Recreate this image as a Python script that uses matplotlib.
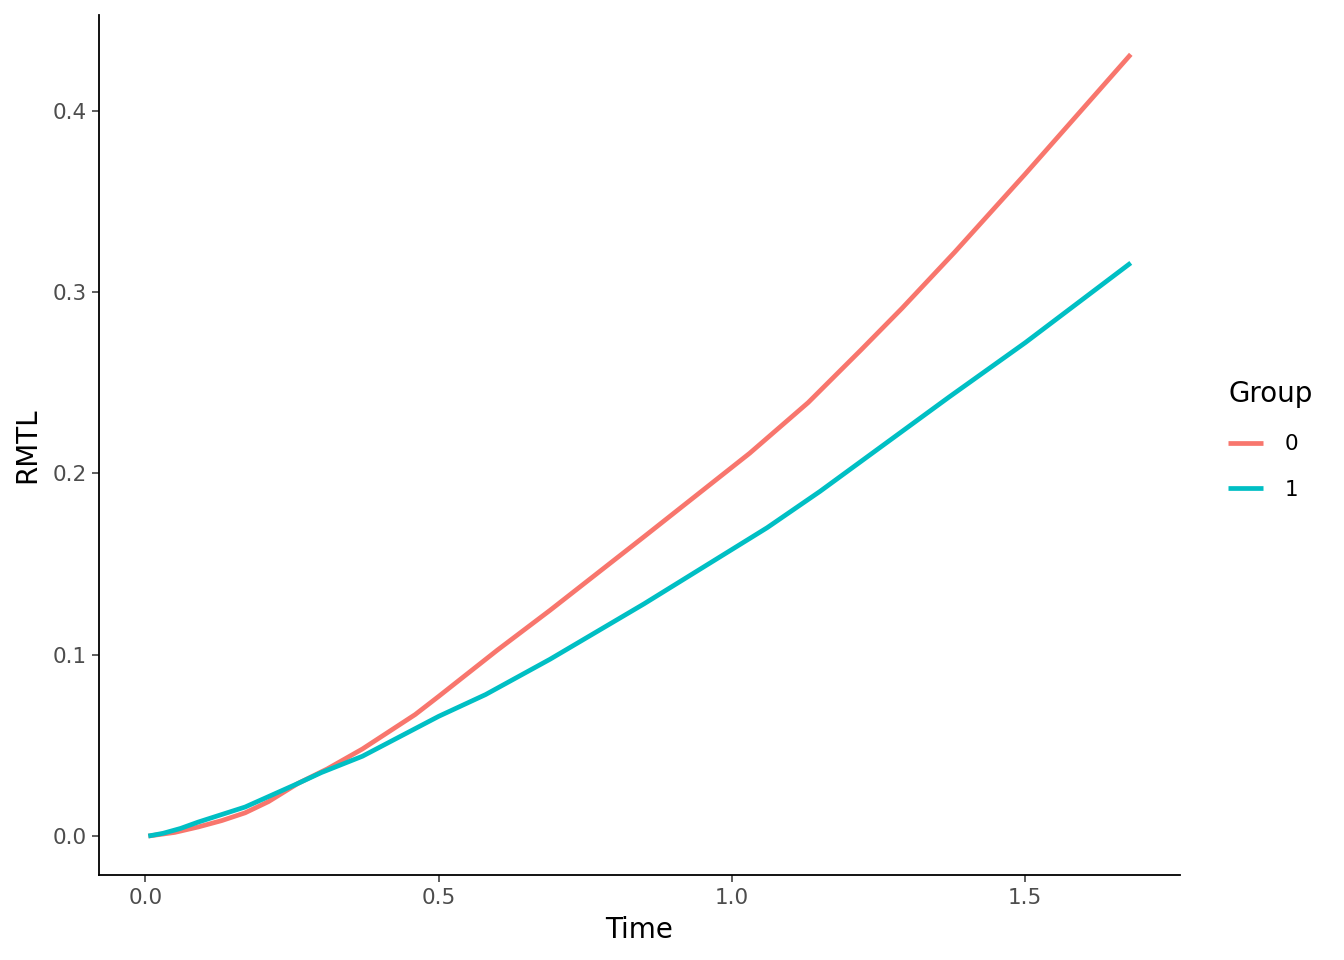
import matplotlib
matplotlib.use('Agg')
import matplotlib.pyplot as plt

# group 0
t0 = [0.005, 0.05, 0.09, 0.13, 0.17, 0.21, 0.26, 0.31, 0.37, 0.46, 0.5, 0.6, 0.69, 0.85, 1.03, 1.13, 1.22, 1.29, 1.38, 1.5, 1.68]
r0 = [0.0, 0.002, 0.005, 0.0085, 0.0128, 0.019, 0.029, 0.037, 0.048, 0.067, 0.077, 0.1025, 0.1245, 0.165, 0.211, 0.239, 0.268, 0.291, 0.322, 0.365, 0.431]
# group 1
t1 = [0.005, 0.03, 0.06, 0.09, 0.17, 0.26, 0.3, 0.37, 0.5, 0.58, 0.69, 0.85, 1.06, 1.15, 1.37, 1.5, 1.68]
r1 = [0.0, 0.0015, 0.0042, 0.0077, 0.016, 0.029, 0.035, 0.0440, 0.066, 0.078, 0.0975, 0.128, 0.170, 0.19, 0.242, 0.272, 0.316]

groups = ['0', '1']
colors = ['#F8766D', '#00BFC4']
xticks = [0.0, 0.5, 1.0, 1.5]
yticks = [0.0, 0.1, 0.2, 0.3, 0.4]

fig = plt.figure(figsize=(13.44, 9.6), dpi=100)
ax = fig.add_axes([0.0737, 0.0885, 0.8043, 0.8955])

ax.plot(t0, r0, color=colors[0], lw=3.4, label=groups[0], solid_capstyle='butt', solid_joinstyle='round')
ax.plot(t1, r1, color=colors[1], lw=3.4, label=groups[1], solid_capstyle='butt', solid_joinstyle='round')

ax.set_xlim(-0.079, 1.764)
ax.set_ylim(-0.0215, 0.4525)
ax.set_xticks(xticks)
ax.set_xticklabels([f'{v:.1f}' for v in xticks])
ax.set_yticks(yticks)
ax.set_yticklabels([f'{v:.1f}' for v in yticks])
ax.tick_params(labelsize=15.5, labelcolor='#4D4D4D', length=5, width=1.1, color='#333333', pad=4)
for s in ['top', 'right']:
    ax.spines[s].set_visible(False)
for s in ['left', 'bottom']:
    ax.spines[s].set_linewidth(1.3)
ax.set_xlabel('Time', fontsize=20, labelpad=6)
ax.set_ylabel('RMTL', fontsize=20, labelpad=8)

leg = fig.legend(title='Group', loc='upper left', bbox_to_anchor=(0.906, 0.615), frameon=False,
                 borderpad=0, fontsize=15.5, title_fontsize=20, handlelength=1.6,
                 labelspacing=1.2, handletextpad=1.0)
leg._legend_box.align = 'left'
for h in leg.legend_handles:
    h.set_linewidth(3.4)

fig.savefig('out.png', dpi=100)
